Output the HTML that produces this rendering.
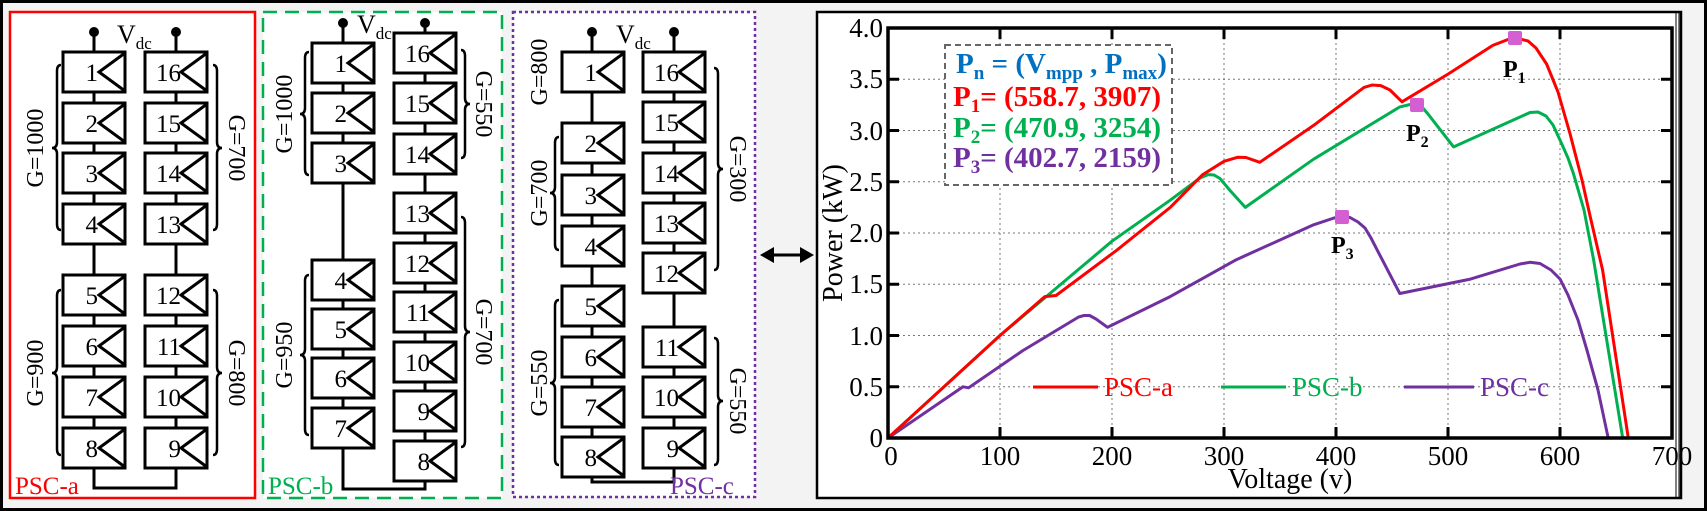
<!DOCTYPE html>
<html><head><meta charset="utf-8"><style>
html,body{margin:0;padding:0;background:#f3f3f3;}
svg{display:block;font-family:"Liberation Serif",serif;}
</style></head><body>
<svg width="1707" height="511" viewBox="0 0 1707 511" xmlns="http://www.w3.org/2000/svg">
<defs>
<g id="m"><rect x="0" y="0" width="62" height="40" fill="#fff" stroke="#000" stroke-width="3"/><path d="M62,1 L36,20 L62,39" fill="none" stroke="#000" stroke-width="3"/></g>
</defs>
<rect x="1.5" y="1.5" width="1704" height="508" fill="#f3f3f3" stroke="#000" stroke-width="3"/>
<rect x="10" y="12" width="245" height="486" fill="#fff" stroke="#ff0000" stroke-width="2.5"/>
<rect x="263" y="12" width="239" height="486" fill="#fff" stroke="#00b050" stroke-width="2.5" stroke-dasharray="14,8"/>
<rect x="513" y="12" width="242" height="485" fill="#fff" stroke="#7030a0" stroke-width="2.5" stroke-dasharray="3,3"/>

<g stroke="#000" stroke-width="3" fill="none">
<path d="M94,32 V488 H176 V32"/>
<path d="M343,23 V489 H425 V23"/>
<path d="M592,32 V482 H674 V32"/>
</g>
<g fill="#000">
<circle cx="94" cy="32" r="5"/><circle cx="176" cy="32" r="5"/>
<circle cx="343" cy="23" r="5"/><circle cx="425" cy="23" r="5"/>
<circle cx="592" cy="32" r="5"/><circle cx="674" cy="32" r="5"/>
</g>
<g font-size="26">
<text x="117" y="43">V<tspan font-size="17" dy="6">dc</tspan></text>
<text x="357" y="33">V<tspan font-size="17" dy="6">dc</tspan></text>
<text x="616" y="43">V<tspan font-size="17" dy="6">dc</tspan></text>
</g>

<g font-size="25" text-anchor="end">
<use href="#m" x="63" y="52"/><text x="98" y="81">1</text>
<use href="#m" x="63" y="103"/><text x="98" y="132">2</text>
<use href="#m" x="63" y="153"/><text x="98" y="182">3</text>
<use href="#m" x="63" y="204"/><text x="98" y="233">4</text>
<use href="#m" x="63" y="275"/><text x="98" y="304">5</text>
<use href="#m" x="63" y="326"/><text x="98" y="355">6</text>
<use href="#m" x="63" y="377"/><text x="98" y="406">7</text>
<use href="#m" x="63" y="428"/><text x="98" y="457">8</text>
<use href="#m" x="145" y="52"/><text x="181" y="81">16</text>
<use href="#m" x="145" y="103"/><text x="181" y="132">15</text>
<use href="#m" x="145" y="153"/><text x="181" y="182">14</text>
<use href="#m" x="145" y="204"/><text x="181" y="233">13</text>
<use href="#m" x="145" y="275"/><text x="181" y="304">12</text>
<use href="#m" x="145" y="326"/><text x="181" y="355">11</text>
<use href="#m" x="145" y="377"/><text x="181" y="406">10</text>
<use href="#m" x="145" y="428"/><text x="181" y="457">9</text>
<use href="#m" x="312" y="43"/><text x="347" y="72">1</text>
<use href="#m" x="312" y="93"/><text x="347" y="122">2</text>
<use href="#m" x="312" y="143"/><text x="347" y="172">3</text>
<use href="#m" x="312" y="260"/><text x="347" y="289">4</text>
<use href="#m" x="312" y="309"/><text x="347" y="338">5</text>
<use href="#m" x="312" y="358"/><text x="347" y="387">6</text>
<use href="#m" x="312" y="408"/><text x="347" y="437">7</text>
<use href="#m" x="394" y="33"/><text x="430" y="62">16</text>
<use href="#m" x="394" y="83"/><text x="430" y="112">15</text>
<use href="#m" x="394" y="134"/><text x="430" y="163">14</text>
<use href="#m" x="394" y="193"/><text x="430" y="222">13</text>
<use href="#m" x="394" y="243"/><text x="430" y="272">12</text>
<use href="#m" x="394" y="292"/><text x="430" y="321">11</text>
<use href="#m" x="394" y="342"/><text x="430" y="371">10</text>
<use href="#m" x="394" y="391"/><text x="430" y="420">9</text>
<use href="#m" x="394" y="441"/><text x="430" y="470">8</text>
<use href="#m" x="562" y="52"/><text x="597" y="81">1</text>
<use href="#m" x="562" y="123"/><text x="597" y="152">2</text>
<use href="#m" x="562" y="175"/><text x="597" y="204">3</text>
<use href="#m" x="562" y="226"/><text x="597" y="255">4</text>
<use href="#m" x="562" y="286"/><text x="597" y="315">5</text>
<use href="#m" x="562" y="337"/><text x="597" y="366">6</text>
<use href="#m" x="562" y="387"/><text x="597" y="416">7</text>
<use href="#m" x="562" y="437"/><text x="597" y="466">8</text>
<use href="#m" x="643" y="52"/><text x="679" y="81">16</text>
<use href="#m" x="643" y="102"/><text x="679" y="131">15</text>
<use href="#m" x="643" y="153"/><text x="679" y="182">14</text>
<use href="#m" x="643" y="203"/><text x="679" y="232">13</text>
<use href="#m" x="643" y="253"/><text x="679" y="282">12</text>
<use href="#m" x="643" y="327"/><text x="679" y="356">11</text>
<use href="#m" x="643" y="377"/><text x="679" y="406">10</text>
<use href="#m" x="643" y="428"/><text x="679" y="457">9</text>
</g>

<g stroke="#000" stroke-width="2.5" fill="none">
<path d="M61,65 Q57,65 57,71 V142 Q57,148 52,148 Q57,148 57,154 V224 Q57,230 61,230"/>
<path d="M61,290 Q57,290 57,296 V367 Q57,373 52,373 Q57,373 57,379 V449 Q57,455 61,455"/>
<path d="M213,65 Q217,65 217,71 V142 Q217,148 222,148 Q217,148 217,154 V224 Q217,230 213,230"/>
<path d="M213,290 Q217,290 217,296 V367 Q217,373 222,373 Q217,373 217,379 V449 Q217,455 213,455"/>
<path d="M309,52 Q305,52 305,58 V108 Q305,114 300,114 Q305,114 305,120 V169 Q305,175 309,175"/>
<path d="M309,275 Q305,275 305,281 V349 Q305,355 300,355 Q305,355 305,361 V429 Q305,435 309,435"/>
<path d="M461,50 Q465,50 465,56 V98 Q465,104 470,104 Q465,104 465,110 V152 Q465,158 461,158"/>
<path d="M461,217 Q465,217 465,223 V326 Q465,332 470,332 Q465,332 465,338 V441 Q465,447 461,447"/>
<path d="M559,137 Q555,137 555,143 V187 Q555,193 550,193 Q555,193 555,199 V244 Q555,250 559,250"/>
<path d="M559,300 Q555,300 555,306 V377 Q555,383 550,383 Q555,383 555,389 V459 Q555,465 559,465"/>
<path d="M714,68 Q718,68 718,74 V163 Q718,169 723,169 Q718,169 718,175 V264 Q718,270 714,270"/>
<path d="M714,338 Q718,338 718,344 V395 Q718,401 723,401 Q718,401 718,407 V459 Q718,465 714,465"/>
</g>
<g font-size="24" text-anchor="middle" dominant-baseline="central">
<text transform="translate(36,148) rotate(-90)">G=1000</text>
<text transform="translate(36,373) rotate(-90)">G=900</text>
<text transform="translate(236,148) rotate(90)">G=700</text>
<text transform="translate(236,373) rotate(90)">G=800</text>
<text transform="translate(285,114) rotate(-90)">G=1000</text>
<text transform="translate(285,355) rotate(-90)">G=950</text>
<text transform="translate(483,104) rotate(90)">G=550</text>
<text transform="translate(483,332) rotate(90)">G=700</text>
<text transform="translate(540,72) rotate(-90)">G=800</text>
<text transform="translate(540,193) rotate(-90)">G=700</text>
<text transform="translate(540,383) rotate(-90)">G=550</text>
<text transform="translate(737,169) rotate(90)">G=300</text>
<text transform="translate(737,401) rotate(90)">G=550</text>
</g>
<g font-size="25">
<text x="15" y="494" fill="#ff0000">PSC-a</text>
<text x="268" y="494" fill="#00b050">PSC-b</text>
<text x="670" y="494" fill="#7030a0">PSC-c</text>
</g>

<path d="M770,255 H804" stroke="#000" stroke-width="3"/>
<path d="M760,255 L774,247 L774,263 Z M814,255 L800,247 L800,263 Z" fill="#000"/>

<rect x="817" y="12" width="864" height="486" fill="#fff" stroke="#000" stroke-width="2.5"/>
<rect x="1676" y="12" width="3" height="486" fill="none" stroke="#000" stroke-width="1"/>
<g stroke="#777" stroke-width="1" stroke-dasharray="2,3">
<path d="M1000,28V438M1112,28V438M1224,28V438M1336,28V438M1448,28V438M1560,28V438"/>
<path d="M888,79.3H1672M888,130.5H1672M888,181.8H1672M888,233H1672M888,284.3H1672M888,335.5H1672M888,386.8H1672"/>
</g>
<g stroke="#000" stroke-width="3">
<path d="M1000,438v-11M1112,438v-11M1224,438v-11M1336,438v-11M1448,438v-11M1560,438v-11"/>
<path d="M1000,28v11M1112,28v11M1224,28v11M1336,28v11M1448,28v11M1560,28v11"/>
<path d="M888,79.3h11M888,130.5h11M888,181.8h11M888,233h11M888,284.3h11M888,335.5h11M888,386.8h11"/>
<path d="M1672,79.3h-11M1672,130.5h-11M1672,181.8h-11M1672,233h-11M1672,284.3h-11M1672,335.5h-11M1672,386.8h-11"/>
</g>
<g fill="none" stroke-width="3" stroke-linejoin="round">
<polyline stroke="#7030a0" points="888,438 963,386.8 968.6,387.8 1022.4,350.9 1078.4,317.1 1084,315.5 1089.6,315.5 1096,319 1107.5,327.3 1170.2,296.6 1236.3,259.7 1313.6,224.8 1334,218 1341.6,216.6 1350,217.5 1358,222 1365,228 1371,238 1377.4,250.4 1399.8,293.5 1470.4,279.1 1520,264 1530,262.3 1540,263.5 1551,270 1560,279 1568,295 1578,320 1586.9,349.9 1598,390 1608.2,438"/>
<polyline stroke="#00b050" points="888,438 1000,335.5 1112,241.2 1170.2,200.2 1200,178 1208.3,174.6 1214,175 1220,178.5 1229.6,190 1245.3,207.4 1313.6,159.2 1399.8,106.9 1410,104.5 1416.6,104.5 1422,107 1428,114 1453.6,146.9 1530,112.5 1538,112 1546,116 1553,125 1560,140 1568,158 1573.4,173.5 1584,210 1593.6,259.7 1622.7,438"/>
<polyline stroke="#ff0000" points="888,438 944,386.8 1000,335.5 1044.8,296.6 1056,295.5 1116.5,250.4 1170.2,207.4 1202.7,174.6 1224,161.3 1238,157.2 1246,157.5 1259.8,162.3 1313.6,125.4 1364,87.4 1372,85 1380.8,85.6 1390,90 1402,101.8 1448,74.1 1492.8,45.4 1508,39.5 1518,38.5 1528,41 1536,48 1546.6,64 1558,92 1570,133.6 1582,180 1590.2,216.6 1602.6,270 1628.3,438"/>
</g>
<rect x="888" y="28" width="784" height="410" fill="none" stroke="#000" stroke-width="3.5"/>
<g fill="#d35fd3">
<rect x="1508" y="31" width="14" height="14" rx="2"/>
<rect x="1410" y="98" width="14" height="14" rx="2"/>
<rect x="1335" y="210" width="14" height="14" rx="2"/>
</g>
<g font-size="24" font-weight="bold">
<text x="1503" y="77">P<tspan font-size="16" dy="6">1</tspan></text>
<text x="1406" y="141">P<tspan font-size="16" dy="6">2</tspan></text>
<text x="1331" y="253">P<tspan font-size="16" dy="6">3</tspan></text>
</g>
<rect x="945" y="45" width="227" height="140" fill="#fff" stroke="#666" stroke-width="2" stroke-dasharray="6,4"/>
<g font-size="29" font-weight="bold">
<text x="956" y="73" fill="#0070c0">P<tspan font-size="19" dy="6">n</tspan><tspan dy="-6"> = (V</tspan><tspan font-size="19" dy="6">mpp</tspan><tspan dy="-6"> , P</tspan><tspan font-size="19" dy="6">max</tspan><tspan dy="-6">)</tspan></text>
<text x="953" y="106" fill="#ff0000">P<tspan font-size="19" dy="6">1</tspan><tspan dy="-6">= (558.7, 3907)</tspan></text>
<text x="953" y="137" fill="#00b050">P<tspan font-size="19" dy="6">2</tspan><tspan dy="-6">= (470.9, 3254)</tspan></text>
<text x="953" y="167" fill="#7030a0">P<tspan font-size="19" dy="6">3</tspan><tspan dy="-6">= (402.7, 2159)</tspan></text>
</g>
<g stroke-width="3">
<line x1="1033" y1="387" x2="1098" y2="387" stroke="#ff0000"/>
<line x1="1221" y1="387" x2="1286" y2="387" stroke="#00b050"/>
<line x1="1404" y1="387" x2="1474" y2="387" stroke="#7030a0"/>
</g>
<g font-size="27">
<text x="1104" y="396" fill="#ff0000">PSC-a</text>
<text x="1292" y="396" fill="#00b050">PSC-b</text>
<text x="1480" y="396" fill="#7030a0">PSC-c</text>
</g>
<g font-size="27" text-anchor="middle">
<text x="891" y="465">0</text><text x="1000" y="465">100</text><text x="1112" y="465">200</text><text x="1224" y="465">300</text><text x="1336" y="465">400</text><text x="1448" y="465">500</text><text x="1560" y="465">600</text><text x="1672" y="465">700</text>
</g>
<g font-size="27" text-anchor="end">
<text x="883" y="447">0</text><text x="883" y="396">0.5</text><text x="883" y="345">1.0</text><text x="883" y="293">1.5</text><text x="883" y="242">2.0</text><text x="883" y="191">2.5</text><text x="883" y="140">3.0</text><text x="883" y="88">3.5</text><text x="883" y="37">4.0</text>
</g>
<text x="1290" y="488" font-size="28" text-anchor="middle">Voltage (v)</text>
<text transform="translate(842,233) rotate(-90)" font-size="28" text-anchor="middle">Power (kW)</text>
</svg>
</body></html>
